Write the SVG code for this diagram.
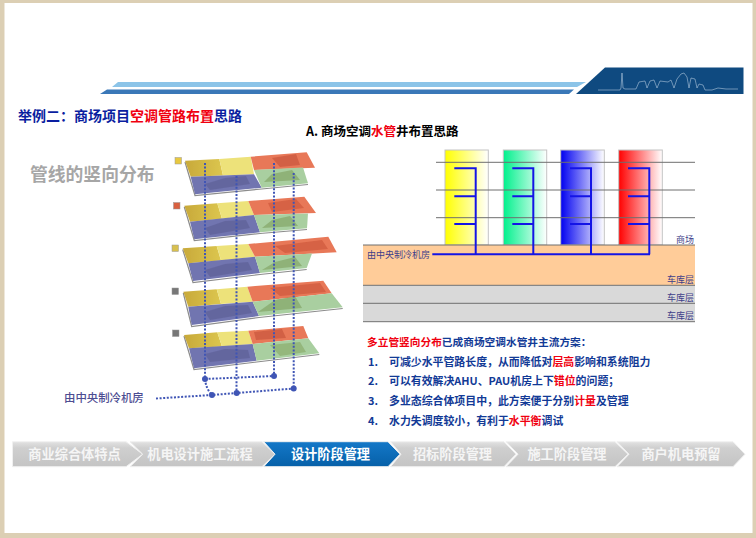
<svg xmlns="http://www.w3.org/2000/svg" width="756" height="538" viewBox="0 0 756 538">
<style>
text{font-family:"Noto Sans CJK SC","Liberation Sans",sans-serif}
.b{font-weight:700}
.r{fill:#f00010}
.t{font-size:10.9px;font-weight:700;fill:#123a96}
.lab{font-size:9px;fill:#3e3e8a;text-anchor:end}
.chev{fill:url(#gc);stroke:#f0f0f0;stroke-width:1}
.chevt{font-size:13.2px;font-weight:700;fill:#f5f5f5;text-anchor:middle}
.col{stroke:#c4c4c4;stroke-width:1}
.hl{stroke:#6e6e6e;stroke-width:1;fill:none}
.pipe{stroke:#1414e6;stroke-width:2;fill:none}
.dot{stroke:#3f55b5;stroke-width:2;stroke-dasharray:2 1.6;fill:none}
.nd{fill:#3f55b5}
.au{fill:url(#gau)}.ye{fill:#ede27a}.re{fill:#e87858}.gr{fill:#a9cfa0}.pu{fill:#7174b0}
.slab{fill:none;stroke:#8c8c8c;stroke-width:1.2}
.dk{opacity:.45}
.tag{stroke:#999;stroke-width:.5}
</style>
<defs>
<linearGradient id="gc" x1="0" y1="0" x2="0" y2="1"><stop offset="0" stop-color="#e2e2e2"/><stop offset=".25" stop-color="#cfcfcf"/><stop offset="1" stop-color="#c4c4c4"/></linearGradient>
<linearGradient id="gb" x1="0" y1="0" x2="0" y2="1"><stop offset="0" stop-color="#1478c8"/><stop offset="1" stop-color="#0660a8"/></linearGradient>
<linearGradient id="gau" x1="0" y1="0" x2="1" y2="0"><stop offset="0" stop-color="#c8a93a"/><stop offset="1" stop-color="#dcc64f"/></linearGradient>
<linearGradient id="c1"><stop offset="0" stop-color="#ffff00"/><stop offset="1" stop-color="#ffffff"/></linearGradient>
<linearGradient id="c2"><stop offset="0" stop-color="#00f08c"/><stop offset="1" stop-color="#ffffff"/></linearGradient>
<linearGradient id="c3"><stop offset="0" stop-color="#0000f0"/><stop offset="1" stop-color="#ffffff"/></linearGradient>
<linearGradient id="c4"><stop offset="0" stop-color="#ff0000"/><stop offset="1" stop-color="#ffffff"/></linearGradient>
<filter id="bl" x="-5%" y="-5%" width="110%" height="110%"><feGaussianBlur stdDeviation="0.5"/></filter>
</defs>

<rect width="756" height="538" fill="#dccfb4"/>
<rect x="4.5" y="3" width="748" height="530" fill="#ffffff"/>

<g id="header">
<polygon points="118,82 586,82 577,87 112,87" fill="#8cc4e8"/>
<polygon points="107,89.500 574,89.500 569,94 100,94" fill="#3a78b8"/>
<polygon points="576,94 605,67.500 743.500,67.500 743.500,94" fill="#0f4a80"/>
<path d="M598,90H620L621,88L622,73L623,88L625,89H636L639,82L645,81L647,88L650,81L654,80L657,88L660,81L668,82L671,80L674,88L677,79L681,74L684,73L687,77L689,88L691,78L695,79L697,88L699,84L703,85L705,90H712L718,88L726,89H738" fill="none" stroke="#cfdfee" stroke-width=".5"/>
</g>

<text id="title" class="b" x="18" y="121" font-size="14" fill="#0a1ea0">举例二：商场项目<tspan class="r">空调管路布置</tspan>思路</text>
<text id="subtitle" class="b" x="306" y="135.500" font-size="12.500" fill="#000">A. 商场空调<tspan class="r">水管</tspan>井布置思路</text>
<text id="vlabel" class="b" x="30" y="181" font-size="17.800" fill="#a6a6a6">管线的竖向分布</text>

<g id="floors" filter="url(#bl)">
<g id="floor5">
<rect class="tag" x="172.500" y="330" width="6.500" height="6.500" fill="#777"/>
<path class="slab" d="M184,336L194,369.500L256.700,362L319.300,354.500"/>
<polygon class="au" points="184,335 217.300,332.300 222,346.500 189,348.300"/>
<polygon class="ye" points="217.300,332.300 248.300,330.700 252.700,344 222,346.500"/>
<polygon class="pu" points="189,348.300 252.700,344 256.700,360.700 194,368.300"/>
<polygon class="re" points="248.300,330.700 303.300,326 308.300,338.300 252.700,344"/>
<polygon class="gr" points="252.700,344 308.300,338.300 319.300,353.300 256.700,360.700"/>
<polygon class="dk" fill="#b8442c" points="254,332 282,329 286,338 256,340"/>
<polygon class="dk" fill="#7a9a50" points="270,345 300,342 306,352 280,356"/>
<polygon class="dk" fill="#55578a" points="205,354 225,349 248,350 250,358 210,362"/>
</g>
<g id="floor4">
<rect class="tag" x="172" y="288" width="6.500" height="6.500" fill="#777"/>
<path class="slab" d="M183.300,293L191.700,326.500L259,317.500L342.700,308.500"/>
<polygon class="au" points="183.300,291.700 216.700,289.300 221,304 188.300,306.700"/>
<polygon class="ye" points="216.700,289.300 247.300,286.700 252.700,301.700 221,304"/>
<polygon class="pu" points="188.300,306.700 252.700,301.700 259,316 191.700,325"/>
<polygon class="re" points="247.300,286.700 323.300,280.700 331.700,293.300 252.700,301.700"/>
<polygon class="gr" points="252.700,301.700 331.700,293.300 342.700,307.300 259,316"/>
<polygon class="dk" fill="#c0482c" points="270,288 320,283 326,292 280,296"/>
<polygon class="dk" fill="#6f8f48" points="258,312 275,300 295,296 302,308"/>
<polygon class="dk" fill="#55578a" points="205,312 225,306 248,305 252,313 210,320"/>
</g>
<g id="floor3">
<rect class="tag" x="172" y="245" width="6.500" height="6.500" fill="#d8c050"/>
<path class="slab" d="M182.700,249.500L193,282.500L260,274.500L306.700,269.500"/>
<polygon class="au" points="182.700,248.300 216.700,246 221,260.500 188.300,263.300"/>
<polygon class="ye" points="216.700,246 248.300,244 255,256.700 221,260.500"/>
<polygon class="pu" points="188.300,263.300 255,256.700 260,273 193,281"/>
<polygon class="re" points="248.300,244 328.300,236.700 336.700,252.300 255,256.700"/>
<polygon class="gr" points="255,256.700 312,253.500 306.700,268 260,273"/>
<polygon class="dk" fill="#c0482c" points="275,246 322,240 328,249 285,253"/>
<polygon class="dk" fill="#6f8f48" points="262,270 275,262 295,257 302,266"/>
<polygon class="dk" fill="#55578a" points="205,270 225,264 248,262 252,270 210,277"/>
</g>
<g id="floor2">
<rect class="tag" x="173.500" y="202.500" width="6.500" height="6.500" fill="#d86040"/>
<path class="slab" d="M184.300,207L194.300,240.500L260,233.500L307,229.500"/>
<polygon class="au" points="184.300,205.700 217.300,203.300 222,218.800 190,221.700"/>
<polygon class="ye" points="217.300,203.300 248.300,201 254,215 222,218.800"/>
<polygon class="pu" points="190,221.700 254,215 260,232.300 194.300,239.300"/>
<polygon class="re" points="248.300,201 304.300,196.700 316,213 254,215"/>
<polygon class="gr" points="254,215 308,213.500 307,228.300 260,232.300"/>
<polygon class="dk" fill="#c0482c" points="268,203 296,199 304,208 272,212"/>
<polygon class="dk" fill="#6f8f48" points="262,228 272,220 290,216 298,226"/>
<polygon class="dk" fill="#55578a" points="205,228 225,221 246,220 250,228 210,235"/>
</g>
<g id="floor1">
<rect class="tag" x="175" y="157.500" width="6.500" height="6.500" fill="#e8c840"/>
<path class="slab" d="M185,162L195,195.500L261.700,189L308,184.500"/>
<polygon class="au" points="185,160.700 219.300,159 223,175.500 190.700,176.700"/>
<polygon class="ye" points="219.300,159 250.700,156.700 254,174.300 223,175.500"/>
<polygon class="pu" points="190.700,176.700 254,174.300 261.700,187.700 195,194.300"/>
<polygon class="re" points="250.700,156.700 306.700,152.300 315,167.700 254,170"/>
<polygon class="gr" points="254,170 303,167.500 308,183.300 261.700,187.700"/>
<polygon class="dk" fill="#b8442c" points="272,158 296,154 300,165 280,167"/>
<polygon class="dk" fill="#6f8f48" points="264,182 272,174 292,170 300,180"/>
<polygon class="dk" fill="#55578a" points="205,184 225,178 246,176 250,184 210,190"/>
</g>
</g>

<g id="shafts">
<rect class="col" x="445" y="150" width="43.300" height="95" fill="url(#c1)"/>
<rect class="col" x="503.300" y="150" width="43.400" height="95" fill="url(#c2)"/>
<rect class="col" x="560.700" y="150" width="43.600" height="95" fill="url(#c3)"/>
<rect class="col" x="618.700" y="150" width="43.600" height="95" fill="url(#c4)"/>
</g>
<g id="levels">
<rect x="363" y="245" width="332" height="40" fill="#ffcc99"/>
<rect x="363" y="285.500" width="332" height="36" fill="#d9d9d9"/>
<path class="hl" d="M363,245H695M363,285.300H695M363,303.300H695M363,321.700H695"/>
<path class="hl" d="M436,162.300H695M436,190H695M436,217.700H695"/>
<text class="lab" x="694" y="243">商场</text>
<text class="lab" x="694" y="283">车库层</text>
<text class="lab" x="694" y="301">车库层</text>
<text class="lab" x="694" y="319">车库层</text>
<text class="lab" x="430" y="257.500">由中央制冷机房</text>
</g>

<g id="connectors">
<g filter="url(#bl)">
<path class="dot" d="M205,163V379"/>
<path class="dot" d="M236.500,176V393"/>
<path class="dot" d="M274,163V376"/>
<path class="dot" d="M293.700,173V388"/>
<path class="dot" d="M205,379L274,376"/>
<path class="dot" d="M205,379Q206,389 212,395"/>
<path class="dot" d="M156,398.500L212,395L236.700,393L293.700,388.500"/>
</g>
<line class="pipe" x1="432.300" y1="254.300" x2="650" y2="254.300"/>
<path class="pipe" d="M454.300,168.300H475.700V254.300M454.300,196.300H475.700M454.300,224H475.700"/>
<path class="pipe" d="M512.300,168.300H533.300V254.300M512.300,196.300H533.300M512.300,224H533.300"/>
<path class="pipe" d="M570,168.300H591V254.300M570,196.300H591M570,224H591"/>
<path class="pipe" d="M628,168.300H649.300V254.300M628,196.300H649.300M628,224H649.300"/>
</g>

<g id="plant-node">
<circle class="nd" cx="205" cy="379" r="3"/>
<circle class="nd" cx="274" cy="376" r="3"/>
<circle class="nd" cx="293.700" cy="388.500" r="3"/>
<circle class="nd" cx="236.700" cy="393" r="3"/>
<circle class="nd" cx="212" cy="395" r="3"/>
<text x="64" y="402" font-size="11.400" font-weight="500" fill="#4d4d92">由中央制冷机房</text>
</g>

<g id="notes">
<text class="t" x="367" y="345.500" style="font-size:10.7px"><tspan class="r">多立管竖向分布</tspan>已成商场空调水管井主流方案：</text>
<text class="t" x="368" y="365.500">1.</text>
<text class="t" x="389" y="365.500">可减少水平管路长度，从而降低对<tspan class="r">层高</tspan>影响和系统阻力</text>
<text class="t" x="368" y="384.500">2.</text>
<text class="t" x="389" y="384.500">可以有效解决AHU、PAU机房上下<tspan class="r">错位</tspan>的问题；</text>
<text class="t" x="368" y="405">3.</text>
<text class="t" x="389" y="405">多业态综合体项目中，此方案便于分别<tspan class="r">计量</tspan>及管理</text>
<text class="t" x="368" y="425">4.</text>
<text class="t" x="389" y="425">水力失调度较小，有利于<tspan class="r">水平衡</tspan>调试</text>
</g>

<g id="nav">
<g id="step1"><polygon class="chev" points="12.500,441.700 126,441.700 142.700,454.200 126,466.700 12.500,466.700"/><text class="chevt" x="74.500" y="459">商业综合体特点</text></g>
<g id="step2"><polygon class="chev" points="130,441.700 262,441.700 275,454.200 262,466.700 130,466.700 142.700,454.200"/><text class="chevt" x="200" y="459">机电设计施工流程</text></g>
<g id="step3"><polygon fill="url(#gb)" stroke="#f0f0f0" points="263.700,441.700 388,441.700 400,454.200 388,466.700 263.700,466.700 275,454.200"/><text class="chevt" x="330.500" y="459" style="fill:#fff">设计阶段管理</text></g>
<g id="step4"><polygon class="chev" points="390.500,441.700 504,441.700 516,454.200 504,466.700 390.500,466.700 401,454.200"/><text class="chevt" x="452.500" y="459">招标阶段管理</text></g>
<g id="step5"><polygon class="chev" points="506,441.700 615,441.700 628,454.200 615,466.700 506,466.700 518,454.200"/><text class="chevt" x="567" y="459">施工阶段管理</text></g>
<g id="step6"><polygon class="chev" points="617,441.700 733,441.700 745,454.200 733,466.700 617,466.700 629,454.200"/><text class="chevt" x="681" y="459">商户机电预留</text></g>
</g>
</svg>
